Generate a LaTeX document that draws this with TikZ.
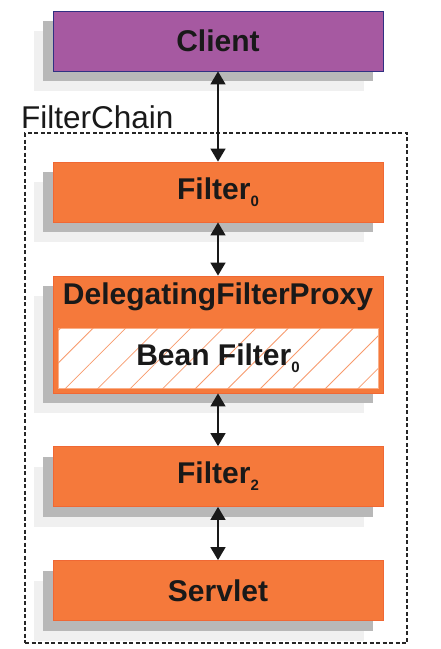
\documentclass[tikz,border=0pt]{standalone}
\usepackage{fontspec}
\setmainfont{Liberation Sans}
\usetikzlibrary{positioning,shadows,patterns.meta,arrows.meta}
\definecolor{clientpurple}{RGB}{166,89,161}
\definecolor{clientedge}{RGB}{48,48,130}
\definecolor{filterorange}{RGB}{245,121,59}
\definecolor{filteredge}{RGB}{240,104,52}
\newcommand{\subidx}[1]{{\fontsize{15}{15}\selectfont\raisebox{-7pt}{#1}}}

\begin{document}
\begin{tikzpicture}[x=1pt,y=-1pt,
    shadowed/.style={drop shadow={shadow xshift=-19pt,shadow yshift=-20pt,fill=black!6,opacity=1},
      drop shadow={shadow xshift=-10pt,shadow yshift=-10pt,fill=black!28,opacity=1}},
    box/.style={shadowed,rectangle,draw=filteredge,fill=filterorange,line width=.8pt,
      minimum width=330pt,minimum height=60pt,inner sep=0pt,font=\fontsize{30}{32}\selectfont\bfseries,text=black!90},
    beanbox/.style={rectangle,draw=filterorange!60,line width=.8pt,fill=white,
      postaction={pattern={Lines[angle=45,distance=23pt,line width=.8pt]},pattern color=filterorange!75},
      minimum width=320pt,minimum height=60pt,inner sep=0pt,font=\fontsize{30}{32}\selectfont\bfseries,text=black!90},
    chainbox/.style={rectangle,draw=black!85,line width=1.1pt,dash pattern=on 4pt off 2.5pt,inner sep=0pt},
    biarrow/.style={{Triangle[width=15pt,length=13pt]}-{Triangle[width=15pt,length=13pt]},line width=1.4pt,black!90}]
  \useasboundingbox (0,0) rectangle (440,649);
  \node[chainbox,minimum width=382pt,minimum height=510pt] (chain) at (216,388) {};
  \node[anchor=base west,inner sep=0pt,font=\fontsize{31.5}{33}\selectfont,text=black!90] (chainlabel) at (21,128) {FilterChain};
  \node[box,fill=clientpurple,draw=clientedge] (client) at (218,41) {Client};
  \node[box] (filter0) at (218,192) {Filter\subidx{0}};
  \node[box,minimum height=117pt] (dfp) at (218,334.5) {};
  \node[anchor=north,inner sep=0pt,font=\fontsize{30}{32}\selectfont\bfseries,text=black!90] (dfptitle) at ([yshift=-7pt]dfp.north) {DelegatingFilterProxy};
  \node[beanbox] (bean) at (218,358) {Bean Filter\subidx{0}};
  \node[box] (filter2) at (218,476.5) {Filter\subidx{2}};
  \node[box] (servlet) at (218,590.5) {Servlet};
  \draw[biarrow] (client) -- (filter0);
  \draw[biarrow] (filter0) -- (dfp);
  \draw[biarrow] (dfp) -- (filter2);
  \draw[biarrow] (filter2) -- (servlet);
\end{tikzpicture}
\end{document}
